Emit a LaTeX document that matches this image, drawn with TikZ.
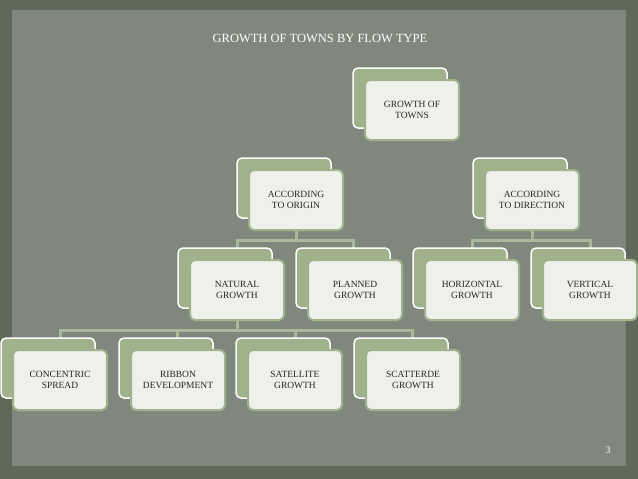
\documentclass[tikz,border=0pt]{standalone}
\usepackage{fontspec}
\setmainfont{Liberation Serif}
\begin{document}
\begin{tikzpicture}[x=1pt,y=-1pt,
  backbox/.style={draw=white,line width=1.5pt,fill=boxgreen,rounded corners=5pt,minimum width=94pt,minimum height=60pt},
  frontbox/.style={draw=boxgreen,line width=2pt,fill=boxwhite,rounded corners=5pt,minimum width=94pt,minimum height=60pt,align=center,font=\fontsize{9.5}{11}\selectfont,text=black!85},
  conn/.style={draw=linegreen,line width=3pt}]
\definecolor{bg}{RGB}{128,136,125}
\definecolor{edge}{RGB}{95,105,90}
\definecolor{boxgreen}{RGB}{160,178,140}
\definecolor{boxwhite}{RGB}{238,240,236}
\definecolor{linegreen}{RGB}{170,185,155}
\useasboundingbox (0,0) rectangle (638,479);
\fill[edge] (0,0) rectangle (638,479);
\fill[bg] (12,10) rectangle (626,466);
\node[text=white,font=\fontsize{12.5}{14}\selectfont] (title) at (320,38) {GROWTH OF TOWNS BY FLOW TYPE};
\node[text=white,font=\fontsize{10}{12}\selectfont] (pg) at (608,450) {3};
\coordinate (c1) at (296,240);
\coordinate (c2) at (237,330);
\coordinate (c3) at (532,240);
\draw[conn] (296,230) -- (c1) -- (237,240) -- (237,260);
\draw[conn] (c1) -- (353,240) -- (353,260);
\draw[conn] (532,230) -- (c3) -- (472,240) -- (472,260);
\draw[conn] (c3) -- (590,240) -- (590,260);
\draw[conn] (237,320) -- (c2) -- (60,330) -- (60,350);
\draw[conn] (c2) -- (412,330) -- (412,350);
\draw[conn] (177,330) -- (177,350);
\draw[conn] (295,330) -- (295,350);
\newcommand{\gbox}[4]{%
  \node[backbox] (#1b) at (#2-12,#3-12) {};
  \node[frontbox] (#1) at (#2,#3) {#4};}
\gbox{root}{412}{110}{GROWTH OF\\TOWNS}
\gbox{origin}{296}{200}{ACCORDING\\TO ORIGIN}
\gbox{dir}{532}{200}{ACCORDING\\TO DIRECTION}
\gbox{nat}{237}{290}{NATURAL\\GROWTH}
\gbox{plan}{355}{290}{PLANNED\\GROWTH}
\gbox{hor}{472}{290}{HORIZONTAL\\GROWTH}
\gbox{ver}{590}{290}{VERTICAL\\GROWTH}
\gbox{con}{60}{380}{CONCENTRIC\\SPREAD}
\gbox{rib}{178}{380}{RIBBON\\DEVELOPMENT}
\gbox{sat}{295}{380}{SATELLITE\\GROWTH}
\gbox{sca}{413}{380}{SCATTERDE\\GROWTH}
\end{tikzpicture}
\end{document}
